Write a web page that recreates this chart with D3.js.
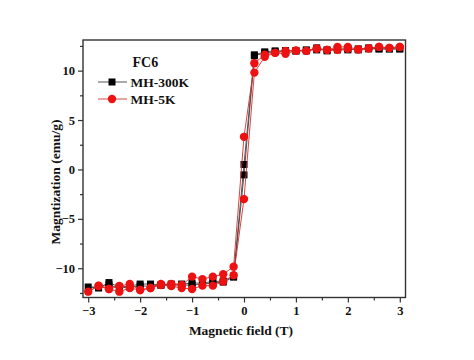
<!DOCTYPE html>
<html><head><meta charset="utf-8">
<script src="https://cdn.jsdelivr.net/npm/d3@7"></script>
<style>body{margin:0;background:#fff}svg{display:block}text{font-family:"Liberation Serif","Times New Roman",serif;font-weight:bold}</style>
</head><body><svg id="c" width="474" height="360"></svg>
<script>
const fieldDown = [3.0,2.8,2.6,2.4,2.2,2.0,1.8,1.6,1.4,1.2,1.0,0.8,0.6,0.4,0.2,0.0,-0.2,-0.4,-0.6,-0.8,-1.0,-1.2,-1.4,-1.6,-1.8,-2.0,-2.2,-2.4,-2.6,-2.8,-3.0];
const fieldUp = [-2.8,-2.6,-2.4,-2.2,-2.0,-1.8,-1.6,-1.4,-1.2,-1.0,-0.8,-0.6,-0.4,-0.2,0.0,0.2,0.4,0.6,0.8,1.0,1.2,1.4,1.6,1.8,2.0,2.2,2.4,2.6,2.8,3.0];
const mh300Down = [12.2,12.2,12.2,12.3,12.1,12.2,12.2,12.0,12.3,12.0,12.0,12.0,12.0,11.9,11.6,0.5,-10.8,-11.3,-11.35,-11.5,-11.5,-11.6,-11.6,-11.7,-11.6,-11.6,-11.8,-11.9,-11.45,-12.0,-11.9];
const mh300Up = [-11.9,-11.7,-12.0,-11.9,-11.8,-11.8,-11.7,-11.7,-11.7,-11.7,-11.6,-11.5,-11.4,-10.9,-0.55,11.5,11.8,11.9,12.0,12.0,12.1,12.1,12.1,12.1,12.1,12.2,12.2,12.2,12.2,12.2];
const mh5Down = [12.4,12.3,12.4,12.25,12.15,12.4,12.4,12.1,12.25,12.0,12.05,12.0,11.8,11.6,10.75,3.3,-9.84,-10.6,-10.85,-11.1,-10.85,-11.7,-11.6,-11.6,-12.0,-12.2,-11.6,-11.8,-12.1,-11.76,-12.37];
const mh5Up = [-11.8,-12.1,-12.37,-12.0,-12.2,-12.0,-11.7,-11.8,-12.0,-12.1,-11.76,-11.76,-11.35,-10.7,-3.0,9.8,11.4,11.8,11.7,12.0,12.0,12.2,12.1,12.1,12.2,12.15,12.25,12.4,12.3,12.4];
const xTicks = [-3,-2,-1,0,1,2,3];
const yTicks = [-10,-5,0,5,10];
const seriesNames = ["MH-300K","MH-5K"];
const legendTitle = "FC6";

const svg = d3.select("#c");
const L = 83, R = 405.5, T = 40, B = 297.5;
const x = d3.scaleLinear().domain([-3.1, 3.11]).range([L, R]);
const y = d3.scaleLinear().domain([-12.96, 13.1]).range([B, T]);

function pts(fd, fu, md, mu){
  const a = fd.map((f,i)=>[f, md[i]]);
  return a.concat(fu.map((f,i)=>[f, mu[i]]));
}
const s300 = pts(fieldDown, fieldUp, mh300Down, mh300Up);
const s5 = pts(fieldDown, fieldUp, mh5Down, mh5Up);

const axisCol = "#333";
const gx = svg.append("g").attr("transform",`translate(0,${B})`)
  .call(d3.axisBottom(x).tickValues(xTicks).tickFormat(d3.format("d")).tickSize(5).tickPadding(4));
const gxm = svg.append("g").attr("transform",`translate(0,${B})`)
  .call(d3.axisBottom(x).tickValues(d3.range(-2.5,3,1)).tickFormat("").tickSize(3));
const gy = svg.append("g").attr("transform",`translate(${L},0)`)
  .call(d3.axisLeft(y).tickValues(yTicks).tickFormat(d3.format("d")).tickSize(5).tickPadding(3));
const gym = svg.append("g").attr("transform",`translate(${L},0)`)
  .call(d3.axisLeft(y).tickValues([-12.5,-7.5,-2.5,2.5,7.5,12.5]).tickFormat("").tickSize(3));
[gx,gxm,gy,gym].forEach(g=>{
  g.select(".domain").remove();
  g.selectAll("line").attr("stroke",axisCol).attr("stroke-width",1.2);
  g.selectAll("text").attr("fill","#111").style("font-size","12.5px").style("font-family","Liberation Serif").style("font-weight","bold");
});
svg.append("rect").attr("x",L).attr("y",T).attr("width",R-L).attr("height",B-T)
  .attr("fill","none").attr("stroke",axisCol).attr("stroke-width",1.4);

const line = d3.line().x(d=>x(d[0])).y(d=>y(d[1]));
svg.append("path").datum(s300).attr("d",line).attr("fill","none").attr("stroke","#444").attr("stroke-width",0.9);
svg.selectAll(".sq").data(s300).join("rect").attr("class","sq")
  .attr("x",d=>x(d[0])-3.5).attr("y",d=>y(d[1])-3.5).attr("width",7).attr("height",7).attr("fill","#000");
svg.append("path").datum(s5).attr("d",line).attr("fill","none").attr("stroke","#d03030").attr("stroke-width",0.9);
svg.selectAll(".ci").data(s5).join("circle").attr("class","ci")
  .attr("cx",d=>x(d[0])).attr("cy",d=>y(d[1])).attr("r",4.2).attr("fill","#ee1111");

svg.append("text").attr("x",132.5).attr("y",67).style("font-size","14px").attr("fill","#111").text(legendTitle);
const leg = [{name:seriesNames[0], col:"#444", y:82},{name:seriesNames[1], col:"#d03030", y:99}];
leg.forEach((l,i)=>{
  svg.append("line").attr("x1",98).attr("x2",127).attr("y1",l.y).attr("y2",l.y).attr("stroke",l.col).attr("stroke-width",0.9);
  if(i===0) svg.append("rect").attr("x",112-3.5).attr("y",l.y-3.5).attr("width",7).attr("height",7).attr("fill","#000");
  else svg.append("circle").attr("cx",112).attr("cy",l.y).attr("r",4.2).attr("fill","#ee1111");
  svg.append("text").attr("x",130.5).attr("y",l.y+5).style("font-size","13.5px").attr("fill","#111").text(l.name);
});

svg.append("text").attr("x",241).attr("y",335).attr("text-anchor","middle").style("font-size","13.5px").attr("fill","#111").text("Magnetic field (T)");
svg.append("text").attr("transform","translate(60,182) rotate(-90)").attr("text-anchor","middle").style("font-size","13.5px").attr("fill","#111").text("Magntization (emu/g)");
</script></body></html>
